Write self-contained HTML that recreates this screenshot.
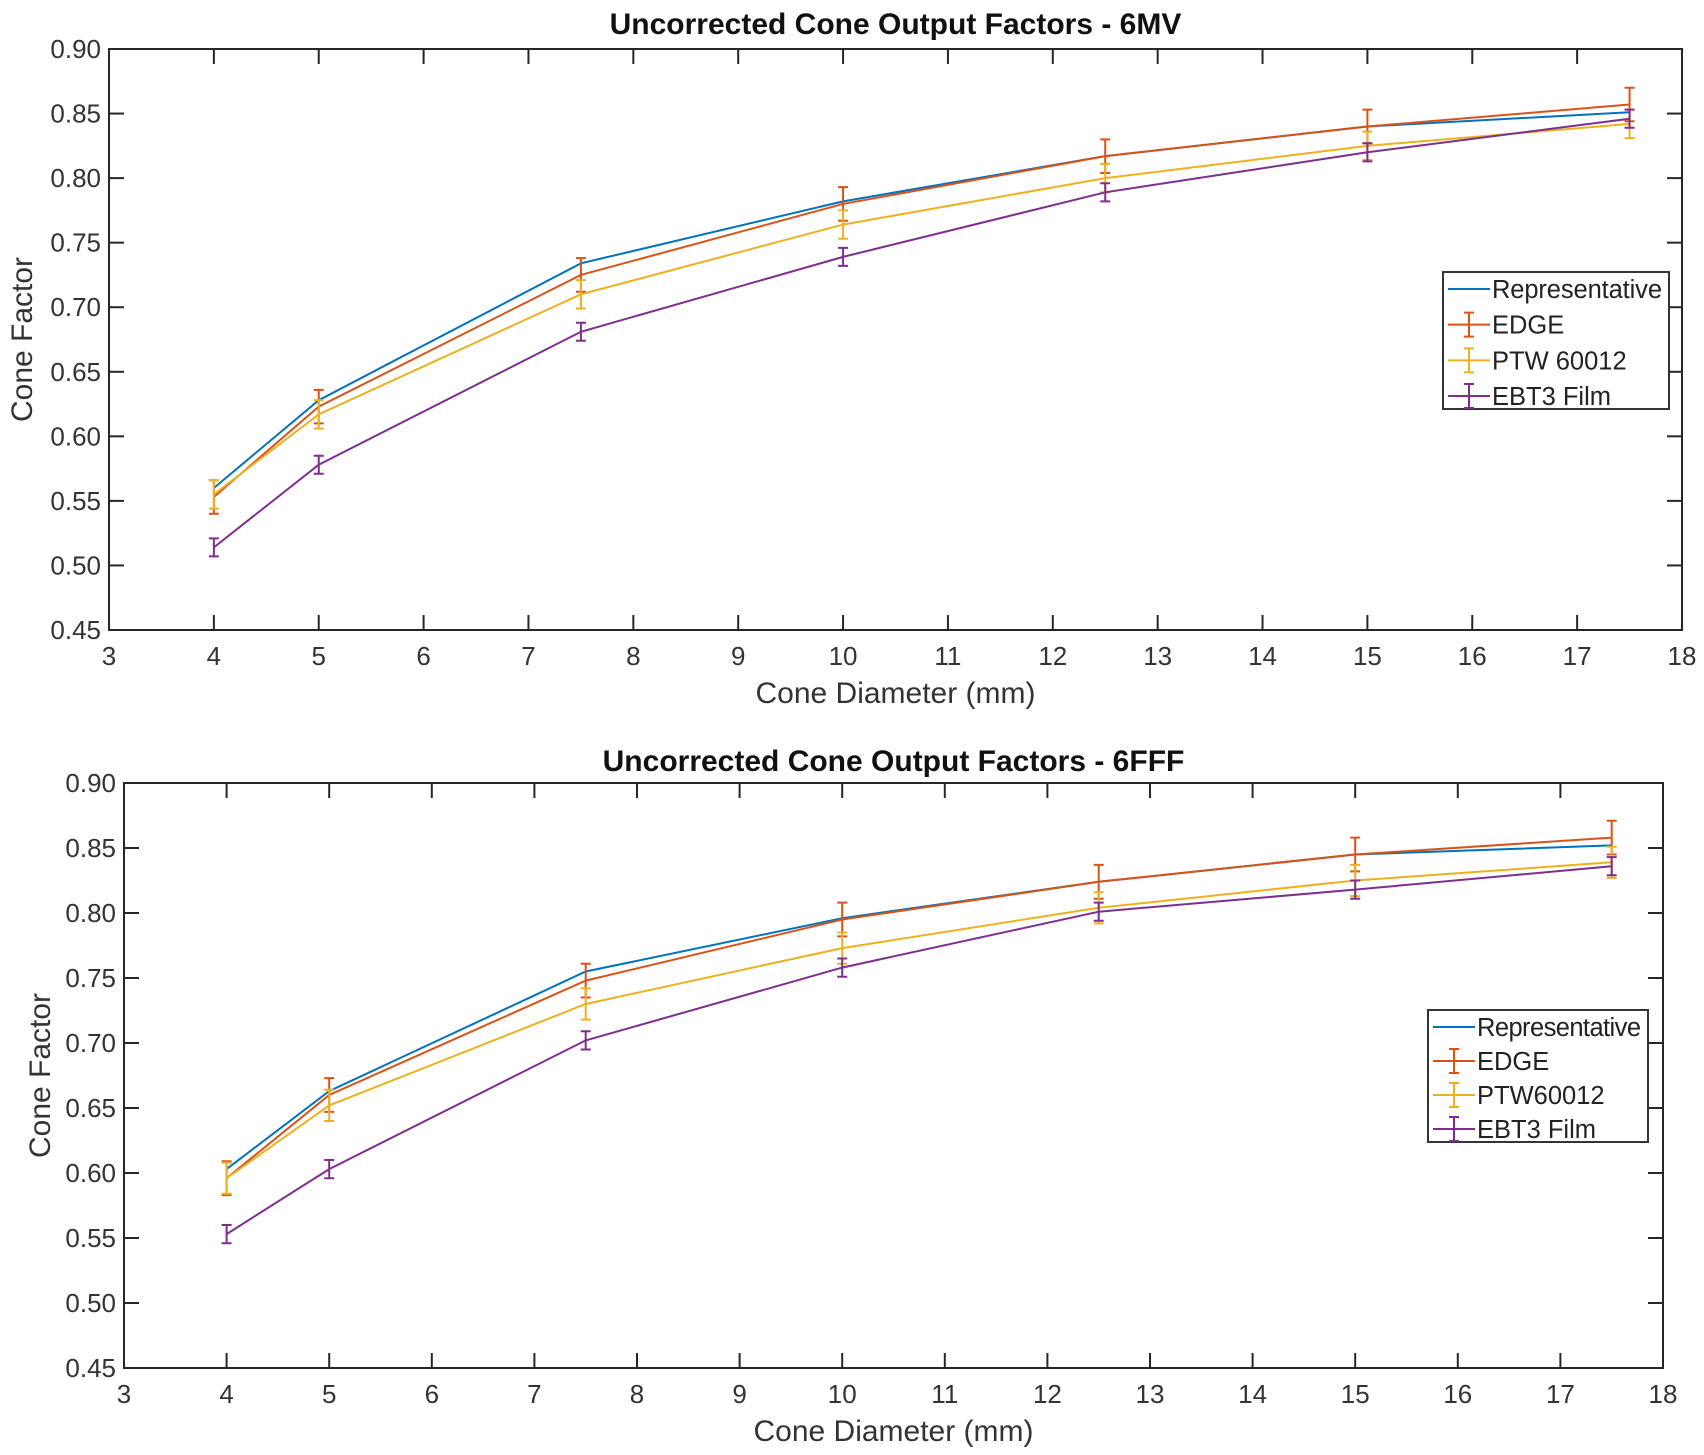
<!DOCTYPE html>
<html><head><meta charset="utf-8"><style>
html,body{margin:0;padding:0;background:#fff;}
svg{display:block;font-family:"Liberation Sans",Arial,sans-serif;}
</style></head><body>
<svg id="s" width="1704" height="1455" xmlns="http://www.w3.org/2000/svg"></svg>
<script>
const s=document.getElementById('s');let h='';
const C=['#0072BD','#D95319','#EDB120','#7E2F8E'];
const D=[4,5,7.5,10,12.5,15,17.5];
function plot(L,T,R,B,title,top,data,err,leg,names,ylx){
 const X=d=>L+(d-3)*(R-L)/15, Y=v=>T+(0.90-v)/0.45*(B-T);
 h+=`<rect x="${L}" y="${T}" width="${R-L}" height="${B-T}" fill="#fff" stroke="#262626" stroke-width="2"/>`;
 for(let i=0;i<=15;i++){const x=X(3+i);h+=`<line x1="${x}" y1="${B}" x2="${x}" y2="${B-15}" stroke="#262626" stroke-width="2"/><line x1="${x}" y1="${T}" x2="${x}" y2="${T+15}" stroke="#262626" stroke-width="2"/>`;
  h+=`<text x="${x}" y="${B+35}" font-size="26" fill="#333" text-anchor="middle">${3+i}</text>`;}
 for(let i=0;i<=9;i++){const v=0.45+i*0.05,y=Y(v);h+=`<line x1="${L}" y1="${y}" x2="${L+15}" y2="${y}" stroke="#262626" stroke-width="2"/><line x1="${R}" y1="${y}" x2="${R-15}" y2="${y}" stroke="#262626" stroke-width="2"/>`;
  h+=`<text x="${L-8}" y="${y+9}" font-size="26" fill="#333" text-anchor="end">${v.toFixed(2)}</text>`;}
 h+=`<text x="${(L+R)/2}" y="${top}" font-size="30" font-weight="bold" fill="#111" text-anchor="middle">${title}</text>`;
 h+=`<text x="${(L+R)/2}" y="${B+73}" font-size="30" fill="#333" text-anchor="middle">Cone Diameter (mm)</text>`;
 h+=`<text transform="translate(${ylx},${(T+B)/2}) rotate(-90)" font-size="30" fill="#333" text-anchor="middle">Cone Factor</text>`;
 data.forEach((ser,k)=>{h+=`<polyline fill="none" stroke="${C[k]}" stroke-width="2" points="${ser.map((v,i)=>X(D[i])+','+Y(v)).join(' ')}"/>`;
  if(k>0)ser.forEach((v,i)=>{const x=X(D[i]),a=Y(v+err[k]),b=Y(v-err[k]);h+=`<path d="M${x} ${a}V${b}M${x-5} ${a}H${x+5}M${x-5} ${b}H${x+5}" stroke="${C[k]}" stroke-width="2" fill="none"/>`;});});
 const [lx,ly,lw,lh]=leg;h+=`<rect x="${lx}" y="${ly}" width="${lw}" height="${lh}" fill="#fff" stroke="#333" stroke-width="2"/>`;
 names.forEach((n,k)=>{const y=ly+17+k*(lh-30)/3;h+=`<line x1="${lx+5}" y1="${y}" x2="${lx+47}" y2="${y}" stroke="${C[k]}" stroke-width="2"/>`;
  if(k>0)h+=`<path d="M${lx+26} ${y-12}V${y+12}M${lx+21} ${y-12}H${lx+31}M${lx+21} ${y+12}H${lx+31}" stroke="${C[k]}" stroke-width="2"/>`;
  h+=`<text x="${lx+49}" y="${y+9}" font-size="25.5" fill="#222" textLength="${n.length>12?lw-56:''}">${n}</text>`;});
}
plot(109,49,1682,630,'Uncorrected Cone Output Factors - 6MV',34,
 [[0.56,0.628,0.734,0.782,0.817,0.840,0.851],[0.553,0.623,0.725,0.780,0.817,0.840,0.857],[0.555,0.617,0.710,0.764,0.800,0.825,0.842],[0.514,0.578,0.681,0.739,0.789,0.820,0.846]],
 [0,0.013,0.011,0.007],[1443,272,226,137],['Representative','EDGE','PTW 60012','EBT3 Film'],32);
plot(124,783,1663,1368,'Uncorrected Cone Output Factors - 6FFF',771,
 [[0.603,0.663,0.755,0.796,0.824,0.845,0.852],[0.596,0.660,0.748,0.795,0.824,0.845,0.858],[0.596,0.652,0.730,0.773,0.804,0.825,0.839],[0.553,0.603,0.702,0.758,0.801,0.818,0.836]],
 [0,0.013,0.012,0.007],[1428,1010,220,132],['Representative','EDGE','PTW60012','EBT3 Film'],50);
s.innerHTML=h.replace(/ textLength=""/g,'');
</script>
</body></html>
